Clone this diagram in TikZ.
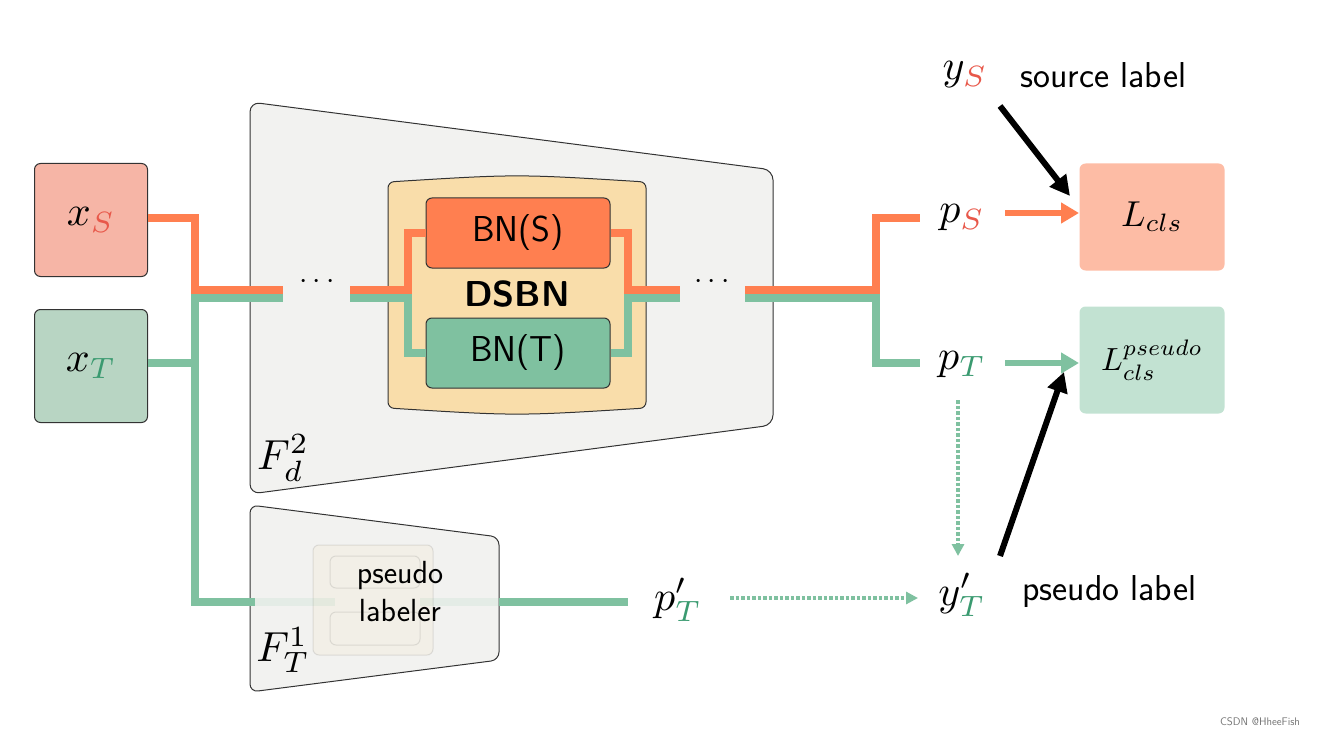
\documentclass[tikz,border=0pt]{standalone}
\usepackage{graphicx}
\usetikzlibrary{arrows.meta}
\definecolor{sorg}{HTML}{FF7F50}
\definecolor{tgrn}{HTML}{7FC1A0}
\definecolor{sred}{HTML}{E8584A}
\definecolor{tdk}{HTML}{3A9A70}
\definecolor{xsfill}{HTML}{F6B5A6}
\definecolor{xtfill}{HTML}{B8D5C3}
\definecolor{dsbnfill}{HTML}{F9DDAA}
\definecolor{encfill}{HTML}{F2F2F0}
\definecolor{lsfill}{HTML}{FDBCA5}
\definecolor{ltfill}{HTML}{C2E2D2}
\newcommand{\bm}[1]{\scalebox{4.2}{$#1$}}
\newcommand{\midfnt}{\fontsize{36}{40}\sffamily\selectfont}
\begin{document}
\begin{tikzpicture}[x=1pt,y=-1pt,
  box/.style={draw=black!80,line width=1pt,rounded corners=6pt},
  ol/.style={sorg,line width=8pt},
  gl/.style={tgrn,line width=8pt},
  mth/.style={inner sep=0pt},
  lbl/.style={font=\midfnt,inner sep=0pt},
  dotarr/.style={tgrn,line width=3.5pt,dotted,-{Triangle[length=12pt,width=12pt]}},
  blk/.style={black,line width=6pt,-{Triangle[length=20pt,width=20pt]}}]
\useasboundingbox (0,0) rectangle (1330,738);
% encoders
\draw[box,fill=encfill,rounded corners=10pt] (250,102) -- (773,170) -- (773,425) -- (250,494) -- cycle;
\draw[box,fill=encfill,rounded corners=8pt] (250,505) -- (499,537) -- (499,660) -- (250,692) -- cycle;
% DSBN
\draw[box,fill=dsbnfill] (388,182) .. controls (517,174) .. (646,182) -- (646,408) .. controls (517,416) .. (388,408) -- cycle;
\node[box,fill=sorg,minimum width=184pt,minimum height=70pt,font=\midfnt] (bns) at (518,233) {BN(S)};
\node[box,fill=tgrn,minimum width=184pt,minimum height=70pt,font=\midfnt] (bnt) at (518,353) {BN(T)};
\node[lbl,font=\midfnt\bfseries] (dsbn) at (517,294) {DSBN};
% inputs
\node[box,fill=xsfill,minimum width=113pt,minimum height=113pt] (xs) at (91,220) {};
\node[mth] at (xs) {\bm{x_{\color{sred}S}}};
\node[box,fill=xtfill,minimum width=113pt,minimum height=113pt] (xt) at (91,366) {};
\node[mth] at (xt) {\bm{x_{\color{tdk}T}}};
% coordinates
\coordinate (a1) at (283,290); \coordinate (a2) at (350,290);
\coordinate (a3) at (680,290); \coordinate (a4) at (745,290);
\node (d1) at (317,282) {\scalebox{3}{$\cdots$}};
\node (d2) at (712,282) {\scalebox{3}{$\cdots$}};
% orange paths
\draw[ol] (xs.east|-0,218) -| (195,290) -- (a1);
\draw[ol] (a2) -- (408,290) |- (bns.west);
\draw[ol] (bns.east) -| (628,290) -- (a3);
\draw[ol] (a4) -- (876,290) |- (920,218);
% green paths
\draw[gl] (xt.east|-0,363) -| (195,298) -- (283,298);
\draw[gl] (195,363) |- (255,602);
\draw[gl] (350,298) -- (408,298) |- (bnt.west);
\draw[gl] (bnt.east) -| (628,298) -- (680,298);
\draw[gl] (745,298) -- (876,298) |- (920,363);
% faded pseudo labeler interior
\begin{scope}[opacity=0.12]
\draw[box,fill=dsbnfill] (313,545) rectangle (433,655);
\draw[box] (330,556) rectangle (420,588);
\draw[box] (330,612) rectangle (420,645);
\draw[gl] (255,602) -- (335,602); \draw[gl] (420,602) -- (499,602);
\end{scope}
\node[lbl,align=center,font=\fontsize{32}{38}\sffamily\selectfont] (pl) at (400,592) {pseudo\\labeler};
\node[mth] (fd) at (283,458) {\bm{F_d^2}};
\node[mth] (ft) at (283,650) {\bm{F_T^1}};
\draw[gl] (499,602) -- (628,602);
% outputs
\node[mth] (ps) at (962,218) {\bm{p_{\color{sred}S}}};
\node[mth] (pt) at (962,365) {\bm{p_{\color{tdk}T}}};
\node[mth] (ppt) at (678,600) {\bm{p'_{\color{tdk}T}}};
\node[mth] (ypt) at (962,595) {\bm{y'_{\color{tdk}T}}};
\node[mth] (ys) at (965,75) {\bm{y_{\color{sred}S}}};
\node[lbl,anchor=west] (sl) at (1020,75) {source label};
\node[lbl,anchor=west] (pl2) at (1022,592) {pseudo label};
\node[box,draw=none,fill=lsfill,minimum width=145pt,minimum height=107pt] (lc) at (1152,217) {};
\node[mth] at (lc) {\scalebox{3.6}{$L_{cls}$}};
\node[box,draw=none,fill=ltfill,minimum width=145pt,minimum height=107pt] (lp) at (1152,360) {};
\node[mth] at (lp) {\scalebox{3.2}{$L_{cls}^{pseudo}$}};
% arrows
\draw[sorg,line width=6pt,-{Triangle[length=18pt,width=20pt]}] (1005,213) -- (lc.west|-0,213);
\draw[tgrn,line width=6pt,-{Triangle[length=18pt,width=20pt]}] (1005,363) -- (lp.west|-0,363);
\draw[blk] (1000,106) -- (1070,196);
\draw[blk] (1000,556) -- (1064,372);
\draw[dotarr] (958,400) -- (958,556);
\draw[dotarr] (730,598) -- (918,598);
\node[font=\fontsize{11}{12}\sffamily\selectfont,text=black!55] (wm) at (1260,722) {CSDN @HheeFish};
\end{tikzpicture}
\end{document}
